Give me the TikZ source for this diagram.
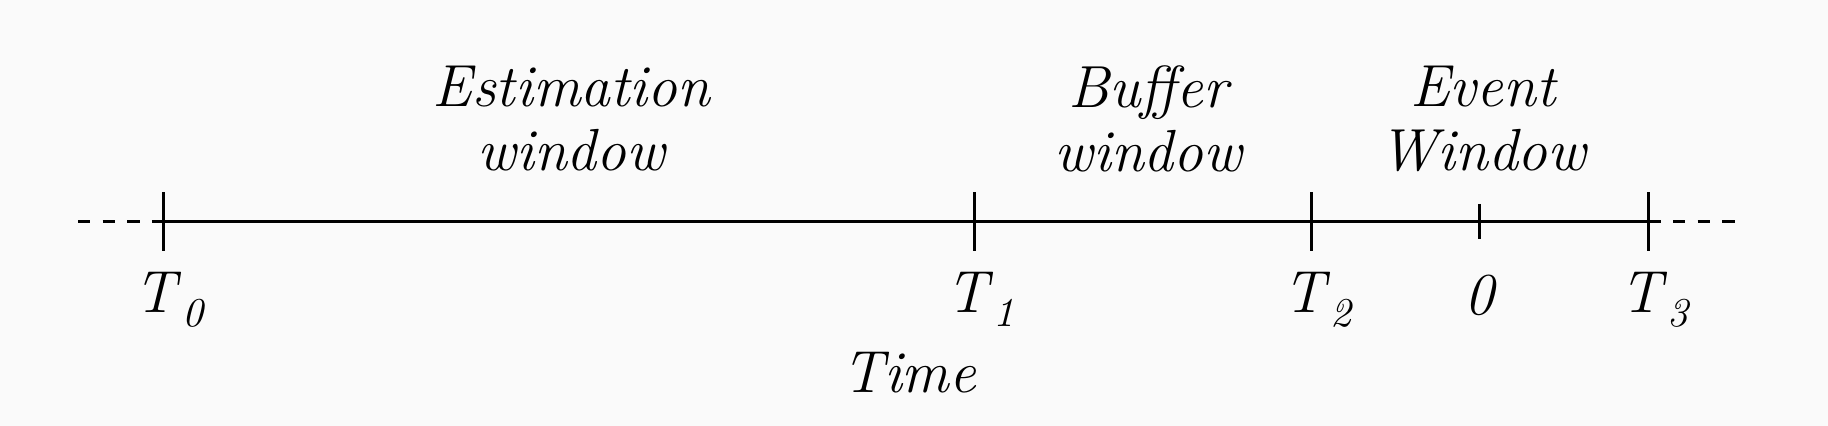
\documentclass[tikz,border=0pt]{standalone}
\newcommand{\tsub}[2]{#1\kern0.1em\raisebox{-0.55ex}{\fontsize{10}{12}\selectfont #2}}
\begin{document}
\begin{tikzpicture}[x=1cm,y=1cm,
  lbl/.style={font=\fontsize{14.5}{17}\selectfont\itshape, align=center, inner sep=0pt},
  tk/.style={thick}]
\fill[fill={rgb,255:red,250;green,250;blue,250}] (0,0) rectangle (15.68,3.65);
\useasboundingbox (0,0) rectangle (15.68,3.65);
\coordinate (l) at (0.67,1.75);
\coordinate (a) at (1.40,1.75);
\coordinate (b) at (8.36,1.75);
\coordinate (c) at (11.25,1.75);
\coordinate (z) at (12.69,1.75);
\coordinate (d) at (14.14,1.75);
\coordinate (r) at (14.88,1.75);
\draw[thick,dashed] (l) -- (a);
\draw[thick] (a) -- (d);
\draw[thick,dashed] (d) -- (r);
\foreach \p in {a,b,c,d} \draw[tk] ([yshift=0.25cm]\p) -- ([yshift=-0.25cm]\p);
\draw[tk] ([yshift=0.15cm]z) -- ([yshift=-0.15cm]z);
\node[lbl] (t0) at (1.45,1.08) {\tsub{T}{0}};
\node[lbl] (t1) at (8.41,1.08) {\tsub{T}{1}};
\node[lbl] (t2) at (11.30,1.08) {\tsub{T}{2}};
\node[lbl] (t0b) at (12.69,1.12) {0};
\node[lbl] (t3) at (14.19,1.08) {\tsub{T}{3}};
\node[lbl] (time) at (7.80,0.45) {Time};
\node[lbl] (est) at (4.90,2.63) {Estimation\\[-0.05cm]window};
\node[lbl] (buf) at (9.85,2.63) {Buffer\\[-0.05cm]window};
\node[lbl] (evt) at (12.72,2.63) {Event\\[-0.05cm]Window};
\end{tikzpicture}
\end{document}
